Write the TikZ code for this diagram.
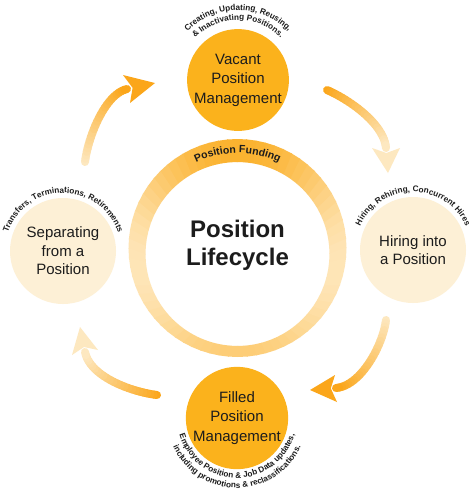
\documentclass[tikz,border=0pt]{standalone}
\usepackage{fontspec}
\setmainfont{Liberation Sans}
\usetikzlibrary{decorations.text,calc}
\definecolor{orangeA}{HTML}{FBB21C}
\definecolor{ringorange}{HTML}{FBB22E}
\definecolor{ringlight}{HTML}{FFF4DF}
\definecolor{creamfill}{HTML}{FDF0D6}
\definecolor{arrowdark}{HTML}{FBA61A}
\definecolor{arrowlight}{HTML}{FDE8C0}
\definecolor{inkc}{HTML}{1C1C1C}
\newcommand\arcfont{\fontsize{8.2}{9}\selectfont\bfseries}
\newcommand\cyclearrow[9]{%
  \foreach \k in {0,...,24}{\path (#1) .. controls (#2) and (#3) .. (#4) coordinate[pos=\k/24] (#9p\k);}
  \foreach \k in {0,...,23}{%
    \pgfmathtruncatemacro\kk{\k+1}%
    \pgfmathtruncatemacro\cc{#8+(100-2*#8)*\k/23}%
    \draw[arrowshaft, arrowdark!\cc!arrowlight] (#9p\k) -- (#9p\kk);}
  \pgfmathtruncatemacro\ce{100-#8}%
  \fill[arrowdark!\ce!arrowlight] (#5) -- (#6) -- ($(#4)!0.2!(#5)$) -- (#7) -- cycle;
}
\begin{document}
\begin{tikzpicture}[x=1pt,y=1pt,
  bigcirc/.style={circle, fill=orangeA, minimum size=96pt, inner sep=0pt, align=center, font=\fontsize{15}{19.5}\selectfont, text=inkc},
  palecirc/.style={circle, fill=creamfill, minimum size=106pt, inner sep=0pt, align=center, font=\fontsize{15}{18.5}\selectfont, text=inkc},
  arrowshaft/.style={line width=8pt, line cap=round},
  centertext/.style={align=center, font=\fontsize{24}{28}\selectfont\bfseries, text=inkc}]
\useasboundingbox (0,0) rectangle (474,-496);
\fill[white] (0,0) rectangle (474,-496);
% ring
\coordinate (RO) at (237.5,-248);
\coordinate (RI) at (237.5,-254);
\foreach \a in {0,5,...,355}{%
  \pgfmathtruncatemacro\f{25+20*sin(\a+2.5)+55*sin(\a+2.5)*sin(\a+2.5)}%
  \fill[ringorange!\f!ringlight] ($(RO)+(\a:109)$) -- ($(RO)+(\a+5.4:109)$) -- ($(RI)+(\a+5.4:92)$) -- ($(RI)+(\a:92)$) -- cycle;
}
\path[decorate, decoration={text along path, text align=center, text color=inkc, text={|\fontsize{10.5}{12}\selectfont\bfseries|Position Funding}}]
  ($(RO)+(140:95)$) arc[start angle=140, end angle=40, radius=95];
\node[centertext] (life) at (237.5,-245) {Position\\Lifecycle};
% circles
\node[bigcirc] (vac) at (238,-80) {Vacant\\Position\\Management};
\node[bigcirc] (fil) at (237,-418) {Filled\\Position\\Management};
\node[palecirc] (sep) at (63,-251) {Separating\\from a\\Position};
\node[palecirc] (hir) at (413,-250) {Hiring into\\a Position};
% arc texts
\path[decorate, decoration={text along path, text align=center, text color=inkc, text={|\arcfont|Creating, Updating, Reusing,}}]
  ($(vac.center)+(175:70)$) arc[start angle=175, end angle=5, radius=70];
\path[decorate, decoration={text along path, text align=center, text color=inkc, text={|\arcfont|{\&} Inactivating Positions.}}]
  ($(vac.center)+(175:60)$) arc[start angle=175, end angle=5, radius=60];
\path[decorate, decoration={text along path, text align=center, text color=inkc, text={|\arcfont|Employee Position {\&} Job Data updates,}}]
  ($(fil.center)+(165:60)$) arc[start angle=165, end angle=375, radius=60];
\path[decorate, decoration={text along path, text align=center, text color=inkc, text={|\arcfont|including promotions {\&} reclassifications.}}]
  ($(fil.center)+(165:70)$) arc[start angle=165, end angle=375, radius=70];
\path[decorate, decoration={text along path, text align=center, text color=inkc, text={|\arcfont|Transfers, Terminations, Retirements}}]
  ($(sep.center)+(195:58)$) arc[start angle=195, end angle=-15, radius=58];
\path[decorate, decoration={text along path, text align=center, text color=inkc, text={|\arcfont|Hiring, Rehiring, Concurrent Hires}}]
  ($(hir.center)+(195:58)$) arc[start angle=195, end angle=-15, radius=58];
% arrows
\coordinate (a1t) at (85,-162); \coordinate (a1c) at (88,-137); \coordinate (a1d) at (105,-94);
\coordinate (a1b) at (127,-89); \coordinate (a1h) at (155,-83); \coordinate (a1w) at (123,-75); \coordinate (a1v) at (130,-103);
\cyclearrow{a1t}{a1c}{a1d}{a1b}{a1h}{a1w}{a1v}{0}{A}
\coordinate (a2t) at (327,-90); \coordinate (a2c) at (350,-100); \coordinate (a2d) at (384,-124);
\coordinate (a2b) at (386,-148); \coordinate (a2h) at (388,-173); \coordinate (a2w) at (372,-148); \coordinate (a2v) at (400,-148);
\cyclearrow{a2t}{a2c}{a2d}{a2b}{a2h}{a2w}{a2v}{100}{B}
\coordinate (a3t) at (386,-320); \coordinate (a3c) at (383,-345); \coordinate (a3d) at (361,-386);
\coordinate (a3b) at (336,-388); \coordinate (a3h) at (310,-390); \coordinate (a3w) at (335,-375); \coordinate (a3v) at (337,-402);
\cyclearrow{a3t}{a3c}{a3d}{a3b}{a3h}{a3w}{a3v}{0}{C}
\coordinate (a4t) at (157,-395); \coordinate (a4c) at (132,-392); \coordinate (a4d) at (90,-377);
\coordinate (a4b) at (85,-352); \coordinate (a4h) at (80,-327); \coordinate (a4w) at (72,-355); \coordinate (a4v) at (98,-350);
\cyclearrow{a4t}{a4c}{a4d}{a4b}{a4h}{a4w}{a4v}{100}{D}
\end{tikzpicture}
\end{document}
